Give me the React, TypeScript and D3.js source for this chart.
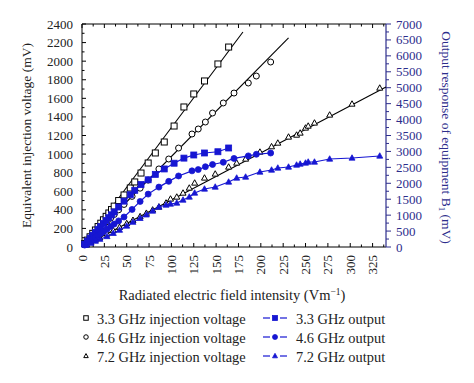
import React from "react";
import * as d3 from "d3";

const x33 = [3, 6, 9, 12, 15, 18, 21, 24, 27, 30, 33, 36, 41, 47, 54, 59, 66, 74, 82, 92, 103, 114, 125, 137, 152, 164];
const inj33 = [37, 74, 110, 147, 183, 220, 256, 293, 330, 366, 403, 440, 500, 560, 635, 700, 796, 904, 1012, 1130, 1302, 1507, 1647, 1787, 1970, 2152];
const out33 = [90, 185, 280, 370, 460, 555, 645, 740, 830, 920, 1010, 1100, 1256, 1440, 1640, 1780, 1960, 2110, 2280, 2450, 2630, 2790, 2888, 2951, 2990, 3108];

const x46 = [3, 6, 9, 12, 15, 18, 21, 24, 28, 32, 36, 41, 47, 56, 65, 74, 86, 97, 108, 123, 130, 138, 146, 158, 170, 186, 195, 211];
const inj46 = [29, 58, 88, 117, 146, 175, 204, 234, 272, 311, 350, 400, 458, 545, 633, 720, 840, 947, 1065, 1216, 1270, 1345, 1442, 1550, 1657, 1765, 1840, 1991];
const out46 = [60, 120, 180, 240, 300, 360, 420, 480, 560, 640, 720, 820, 942, 1180, 1430, 1660, 1880, 2060, 2230, 2390, 2430, 2520, 2590, 2660, 2780, 2860, 2910, 2950];

const x72 = [5, 10, 15, 20, 28, 35, 42, 50, 57, 65, 72, 79, 86, 94, 99, 106, 113, 120, 126, 137, 149, 164, 173, 183, 199, 212, 219, 231, 240, 244, 250, 253, 260, 277, 302, 333];
const inj72 = [25, 50, 76, 101, 141, 177, 212, 253, 288, 328, 364, 399, 431, 474, 517, 538, 581, 635, 689, 743, 786, 861, 904, 947, 1022, 1080, 1119, 1184, 1205, 1227, 1281, 1302, 1335, 1421, 1539, 1711];
const out72 = [60, 120, 185, 245, 330, 430, 530, 660, 780, 900, 1010, 1130, 1256, 1318, 1350, 1381, 1475, 1570, 1695, 1821, 1883, 2040, 2166, 2197, 2354, 2417, 2480, 2511, 2574, 2605, 2637, 2668, 2668, 2762, 2794, 2857];

const fit33 = [[0, 0], [180, 2314]];
const fit46 = [[0, 0], [231, 2250]];
const fit72 = [[0, 0], [340, 1722]];

const xTicks = [0, 25, 50, 75, 100, 125, 150, 175, 200, 225, 250, 275, 300, 325];
const yLTicks = [0, 200, 400, 600, 800, 1000, 1200, 1400, 1600, 1800, 2000, 2200, 2400];
const yRTicks = [0, 500, 1000, 1500, 2000, 2500, 3000, 3500, 4000, 4500, 5000, 5500, 6000, 6500, 7000];

const injLabels = ["3.3 GHz injection voltage", "4.6 GHz injection voltage", "7.2 GHz injection voltage"];
const outLabels = ["3.3 GHz output", "4.6 GHz output", "7.2 GHz output"];

const BLUE = "#1616d2";
const NAVY = "#2d2d8c";
const FONT = "'Liberation Serif', 'DejaVu Serif', serif";

type Shape = "square" | "circle" | "triangle";

function Marker({ cx, cy, shape, filled, s }: { cx: number; cy: number; shape: Shape; filled: boolean; s: number }) {
  const fill = filled ? BLUE : "white";
  const stroke = filled ? BLUE : "black";
  const sw = filled ? 0.8 : 1;
  if (shape === "square")
    return <rect x={cx - s / 2} y={cy - s / 2} width={s} height={s} fill={fill} stroke={stroke} strokeWidth={sw} />;
  if (shape === "circle") return <circle cx={cx} cy={cy} r={s / 2} fill={fill} stroke={stroke} strokeWidth={sw} />;
  const h = s * 0.9;
  return (
    <path
      d={`M${cx},${cy - h * 0.6} L${cx + s / 2},${cy + h * 0.4} L${cx - s / 2},${cy + h * 0.4} Z`}
      fill={fill}
      stroke={stroke}
      strokeWidth={sw}
    />
  );
}

export default function App() {
  const x = d3.scaleLinear().domain([0, 340]).range([82, 386]);
  const yL = d3.scaleLinear().domain([0, 2400]).range([247, 24]);
  const yR = d3.scaleLinear().domain([0, 7000]).range([247, 24]);

  const lineL = d3.line<number[]>().x((d) => x(d[0])).y((d) => yL(d[1]));
  const lineR = d3.line<number[]>().x((d) => x(d[0])).y((d) => yR(d[1]));

  const zip = (xs: number[], ys: number[]) => xs.map((v, i) => [v, ys[i]]);

  const injSeries: { xs: number[]; ys: number[]; fit: number[][]; shape: Shape }[] = [
    { xs: x33, ys: inj33, fit: fit33, shape: "square" },
    { xs: x46, ys: inj46, fit: fit46, shape: "circle" },
    { xs: x72, ys: inj72, fit: fit72, shape: "triangle" },
  ];
  const outSeries: { xs: number[]; ys: number[]; shape: Shape }[] = [
    { xs: x33, ys: out33, shape: "square" },
    { xs: x46, ys: out46, shape: "circle" },
    { xs: x72, ys: out72, shape: "triangle" },
  ];

  const minorX = d3.range(0, 341, 12.5);
  const minorL = d3.range(0, 2401, 100);
  const minorR = d3.range(0, 7001, 250);

  const [x0, x1] = x.range();
  const yTop = 24;
  const yBot = 247;
  const shapes: Shape[] = ["square", "circle", "triangle"];

  return (
    <svg width={474} height={383} style={{ position: "absolute", left: 0, top: 0, background: "white" }} fontFamily={FONT}>
      <rect x={0} y={0} width={474} height={383} fill="white" />
      {/* frame */}
      <line x1={x0} y1={yTop} x2={x1} y2={yTop} stroke="black" strokeWidth={1} />
      <line x1={x0} y1={yBot} x2={x1} y2={yBot} stroke="black" strokeWidth={1} />
      <line x1={x0} y1={yTop} x2={x0} y2={yBot} stroke="black" strokeWidth={1} />
      <line x1={x1} y1={yTop} x2={x1} y2={yBot} stroke={NAVY} strokeWidth={1.2} />

      {/* x ticks (inward, top and bottom) */}
      {minorX.map((v) => {
        const major = v % 25 === 0;
        const len = major ? 4 : 2.5;
        return (
          <g key={"xt" + v}>
            <line x1={x(v)} x2={x(v)} y1={yBot} y2={yBot - len} stroke="black" />
            <line x1={x(v)} x2={x(v)} y1={yTop} y2={yTop + len} stroke="black" />
          </g>
        );
      })}
      {xTicks.map((v) => (
        <text
          key={"xl" + v}
          transform={`translate(${x(v) + 4.5},${yBot + 8}) rotate(-90)`}
          textAnchor="end"
          fontSize={13}
          fill="#222"
        >
          {v}
        </text>
      ))}

      {/* left ticks */}
      {minorL.map((v) => {
        const major = v % 200 === 0;
        return <line key={"lt" + v} x1={x0} x2={x0 + (major ? 4 : 2.5)} y1={yL(v)} y2={yL(v)} stroke="black" />;
      })}
      {yLTicks.map((v) => (
        <text key={"ll" + v} x={73} y={yL(v) + 4.5} textAnchor="end" fontSize={13} fill="#222">
          {v}
        </text>
      ))}

      {/* right ticks */}
      {minorR.map((v) => {
        const major = v % 500 === 0;
        return <line key={"rt" + v} x1={x1} x2={x1 + (major ? 5 : 3)} y1={yR(v)} y2={yR(v)} stroke={NAVY} />;
      })}
      {yRTicks.map((v) => (
        <text key={"rl" + v} x={396} y={yR(v) + 4.5} textAnchor="start" fontSize={13} fill={NAVY}>
          {v}
        </text>
      ))}

      {/* axis titles */}
      <text transform={`translate(31,${(yTop + yBot) / 2}) rotate(-90)`} textAnchor="middle" fontSize={13.5} fill="#222">
        Equivalent injection voltage (mV)
      </text>
      <text transform={`translate(442,${(yTop + yBot) / 2 + 2}) rotate(90)`} textAnchor="middle" fontSize={13.5} fill={NAVY}>
        Output response of equipment B
        <tspan fontSize={9} dy={3}>1</tspan>
        <tspan dy={-3}> (mV)</tspan>
      </text>
      <text x={232} y={300} textAnchor="middle" fontSize={14.5} fill="#222">
        Radiated electric field intensity (Vm
        <tspan fontSize={9.5} dy={-5}>−1</tspan>
        <tspan dy={5}>)</tspan>
      </text>

      {/* fit lines */}
      {injSeries.map((s, i) => (
        <path key={"fit" + i} d={lineL(s.fit) || ""} fill="none" stroke="black" strokeWidth={1.1} />
      ))}
      {/* injection markers */}
      {injSeries.map((s, i) =>
        s.xs.map((v, j) => (
          <Marker key={"im" + i + "-" + j} cx={x(v)} cy={yL(s.ys[j])} shape={s.shape} filled={false} s={6} />
        ))
      )}
      {/* output lines and markers */}
      {outSeries.map((s, i) => (
        <path key={"ol" + i} d={lineR(zip(s.xs, s.ys)) || ""} fill="none" stroke={BLUE} strokeWidth={1.2} />
      ))}
      {outSeries.map((s, i) =>
        s.xs.map((v, j) => (
          <Marker key={"om" + i + "-" + j} cx={x(v)} cy={yR(s.ys[j])} shape={s.shape} filled={true} s={6} />
        ))
      )}

      {/* legend */}
      {injLabels.map((t, i) => {
        const cy = 319 + i * 19;
        return (
          <g key={"lg1" + i}>
            <Marker cx={86} cy={cy - 1} shape={shapes[i]} filled={false} s={4.5} />
            <text x={97} y={cy + 4.5} fontSize={14.4} fill="#222">
              {t}
            </text>
          </g>
        );
      })}
      {outLabels.map((t, i) => {
        const cy = 319 + i * 19;
        return (
          <g key={"lg2" + i}>
            <line x1={263} x2={270} y1={cy - 1} y2={cy - 1} stroke={BLUE} strokeWidth={1.2} />
            <line x1={280} x2={287} y1={cy - 1} y2={cy - 1} stroke={BLUE} strokeWidth={1.2} />
            <Marker cx={275} cy={cy - 1} shape={shapes[i]} filled={true} s={5} />
            <text x={296} y={cy + 4.5} fontSize={14.4} fill="#222">
              {t}
            </text>
          </g>
        );
      })}
    </svg>
  );
}
